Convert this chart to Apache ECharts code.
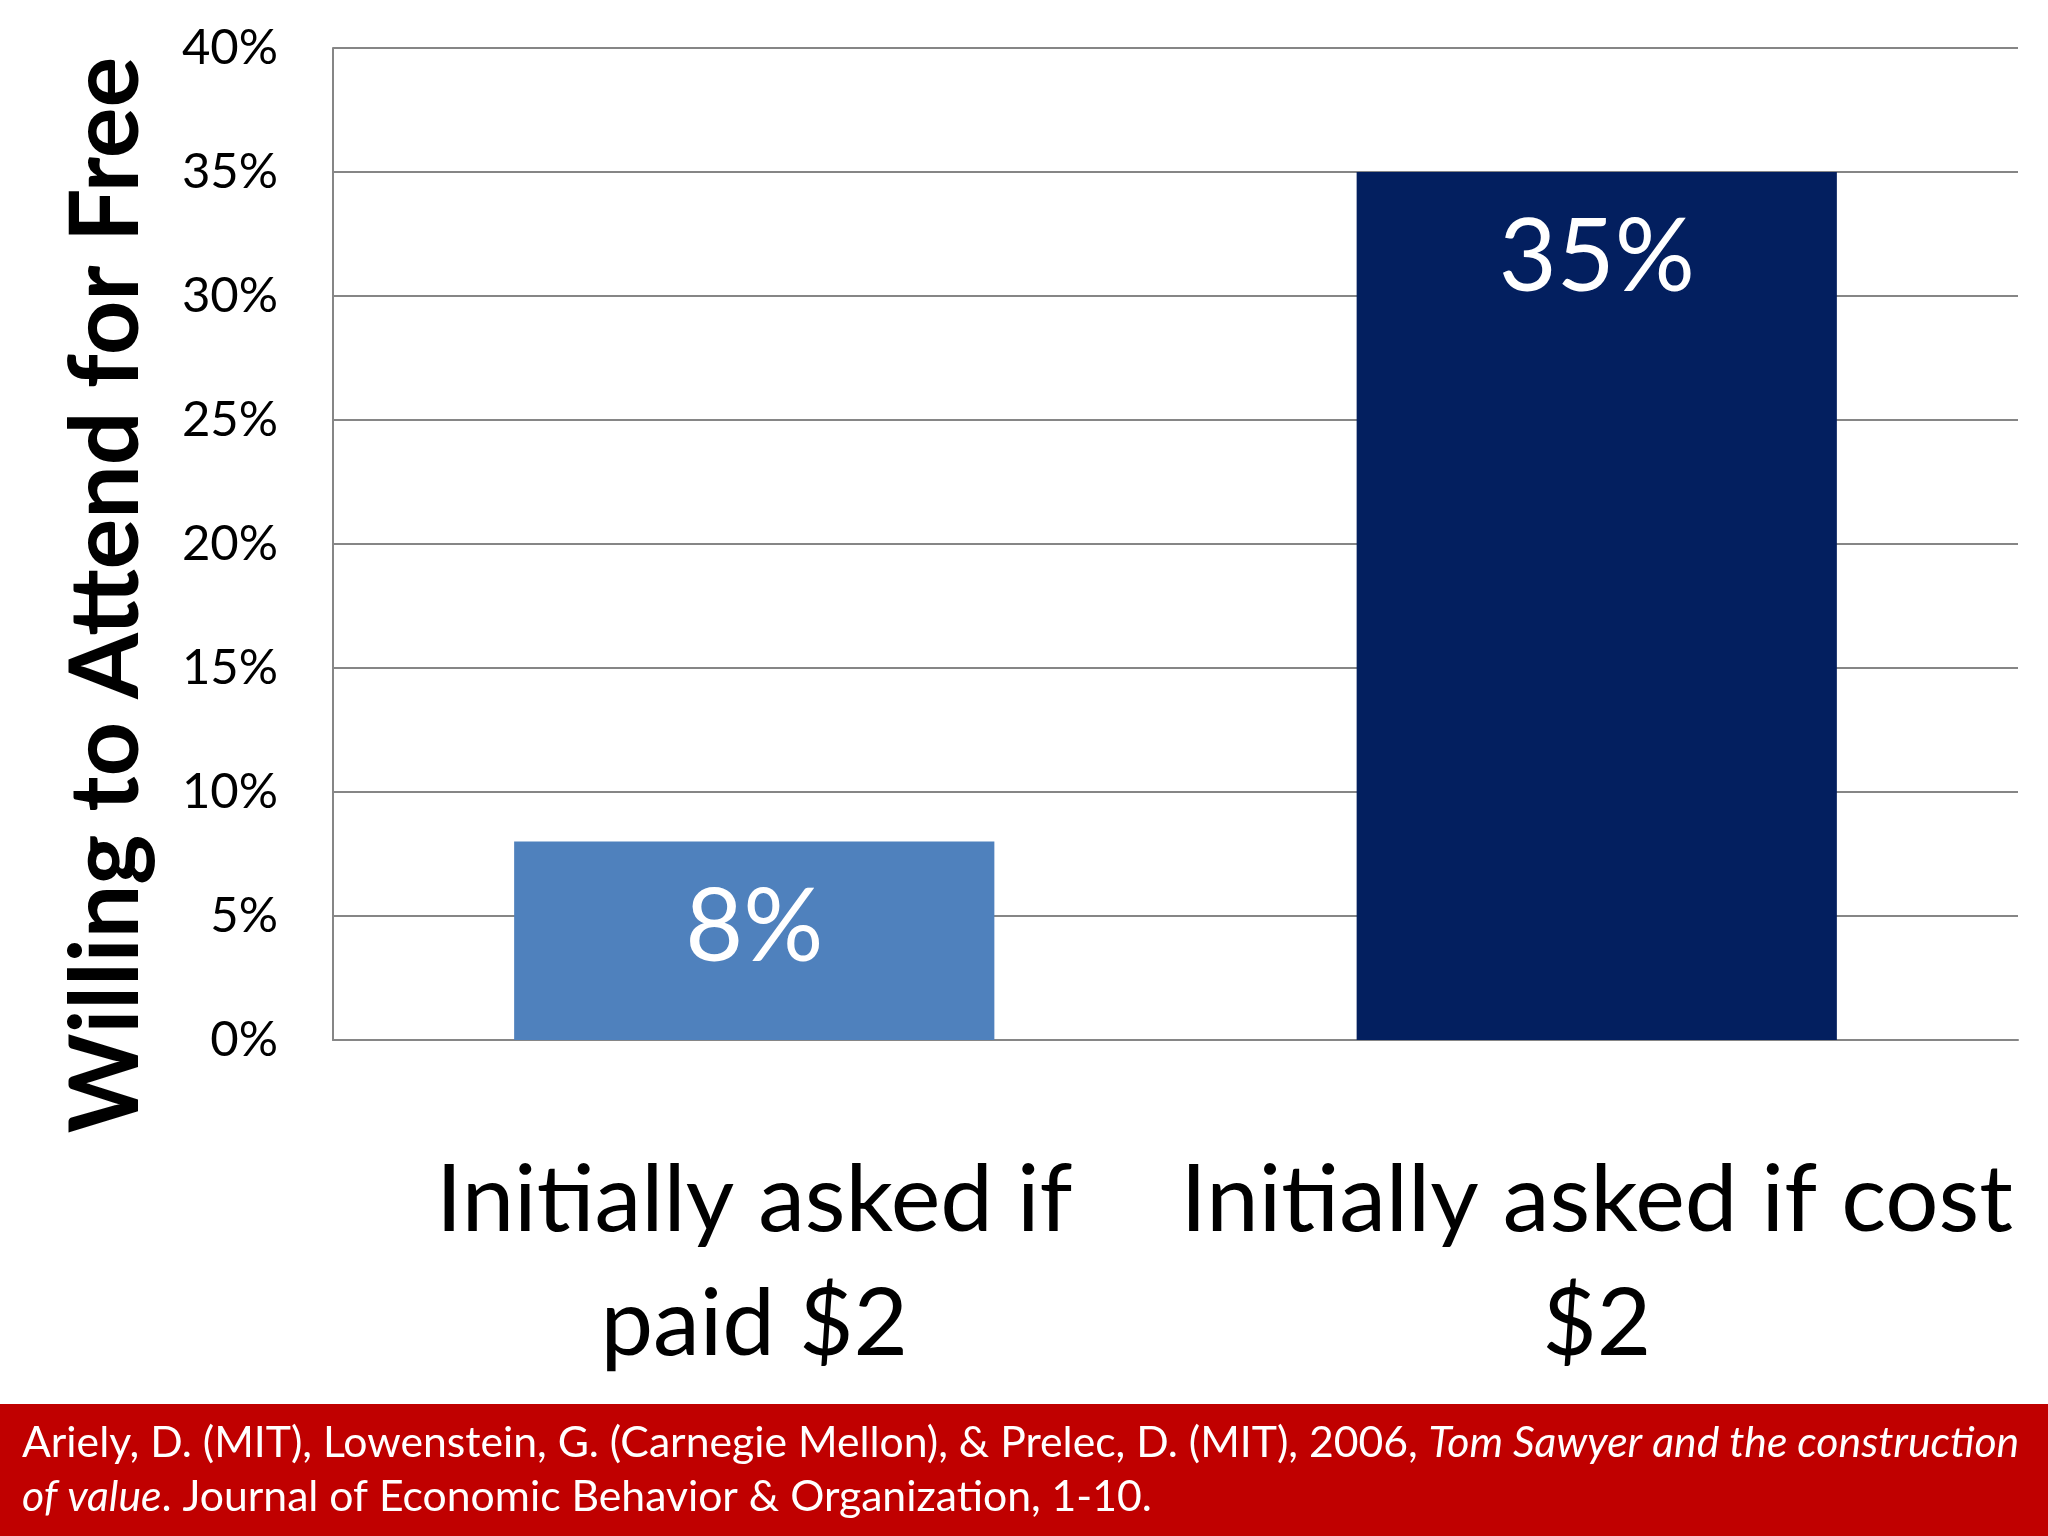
<!DOCTYPE html>
<html>
<head>
<meta charset="utf-8">
<script src="https://cdn.jsdelivr.net/npm/echarts@6/dist/echarts.min.js"></script>
<style>
  html, body { margin: 0; padding: 0; background: #fff; }
  #chart { width: 2048px; height: 1536px; }
</style>
</head>
<body>
<div id="chart"></div>
<script>
// chart data
const categories = ['Initially asked if\npaid $2', 'Initially asked if cost\n$2'];
const values = [0.08, 0.35];
const barColors = ['#4F81BD', '#031F5F'];
const yTicks = [0, 0.05, 0.1, 0.15, 0.2, 0.25, 0.3, 0.35, 0.4];
const yTitle = 'Willing to Attend for Free';

const font = 'Lato, "Open Sans", sans-serif';
const pct = v => Math.round(v * 100) + '%';

const chart = echarts.init(document.getElementById('chart'));
chart.setOption({
  backgroundColor: '#fff',
  animation: false,
  grid: { left: 333, right: 30, top: 48, bottom: 496 },
  xAxis: {
    type: 'category',
    data: categories,
    axisLine: { lineStyle: { color: '#868686', width: 2 } },
    axisTick: { show: false },
    axisLabel: {
      color: '#000', fontFamily: font, fontSize: 94, lineHeight: 124,
      margin: 99, interval: 0
    }
  },
  yAxis: {
    type: 'value',
    min: yTicks[0],
    max: yTicks[yTicks.length - 1],
    interval: 0.05,
    axisLine: { show: true, lineStyle: { color: '#868686', width: 2 } },
    axisTick: { show: false },
    splitLine: { lineStyle: { color: '#868686', width: 2 } },
    axisLabel: { color: '#000', fontFamily: font, fontSize: 49, margin: 55, formatter: pct }
  },
  series: [{
    type: 'bar',
    barWidth: '57%',
    data: values.map((v, i) => ({ value: v, itemStyle: { color: barColors[i] } })),
    label: {
      show: true, position: 'insideTop', distance: 37,
      color: '#fff', fontFamily: font, fontSize: 100, formatter: p => pct(p.value)
    }
  }],
  graphic: [
    {
      type: 'text', x: 107, y: 595, rotation: Math.PI / 2,
      style: {
        text: yTitle, fill: '#000', font: 'bold 95px ' + font,
        textAlign: 'center', textVerticalAlign: 'middle'
      }
    },
    { type: 'rect', shape: { x: 0, y: 1404, width: 2048, height: 132 }, style: { fill: '#C00000' } },
    {
      type: 'text', x: 22, y: 1416,
      style: {
        text: 'Ariely, D. (MIT), Lowenstein, G. (Carnegie Mellon), & Prelec, D. (MIT), 2006, {i|Tom Sawyer and the construction}\n{i|of value}. Journal of Economic Behavior & Organization, 1-10.',
        fill: '#fff', fontFamily: font, fontSize: 42.7, lineHeight: 54,
        rich: { i: { fontStyle: 'italic', fill: '#fff', fontFamily: font, fontSize: 42.7, lineHeight: 54 } }
      }
    }
  ]
});
</script>
</body>
</html>
